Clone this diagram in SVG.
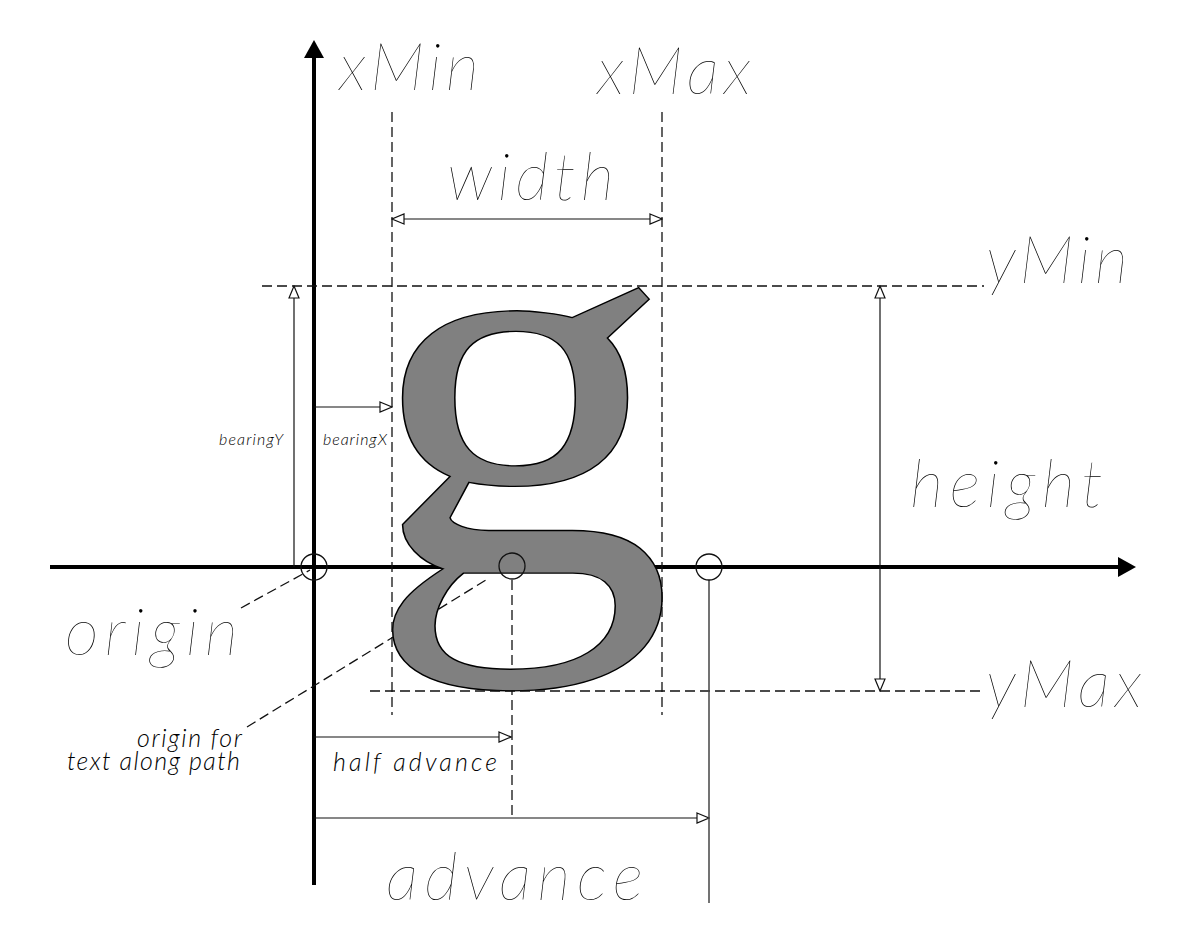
<svg xmlns="http://www.w3.org/2000/svg" width="1200" height="950" viewBox="0 0 1200 950">
  <style>
    .big { font-family: Lato, "Open Sans", "Liberation Sans", sans-serif; font-style: italic; font-weight: 100; font-size: 66px; fill: #000; }
    .small { font-family: Lato, "Open Sans", "Liberation Sans", sans-serif; font-style: italic; font-weight: 300; fill: #000; }
    .axis { stroke: #000; stroke-width: 4; fill: none; }
    .dash { stroke: #111; stroke-width: 1.3; stroke-dasharray: 10 5; fill: none; }
    .dim { stroke: #111; stroke-width: 1.2; fill: none; }
    .ring { stroke: #111; stroke-width: 1.3; fill: none; }
  </style>
  <defs>
    <marker id="open" viewBox="0 0 14 12" refX="13" refY="6" markerWidth="14" markerHeight="12" markerUnits="userSpaceOnUse" orient="auto-start-reverse">
      <path d="M1,1 L13,6 L1,11 Z" fill="#fff" stroke="#111" stroke-width="1.2"/>
    </marker>
    <marker id="solid" viewBox="0 0 18 20" refX="0" refY="10" markerWidth="18" markerHeight="20" markerUnits="userSpaceOnUse" orient="auto">
      <path d="M0,0 L18,10 L0,20 Z" fill="#000"/>
    </marker>
  </defs>
  <rect width="1200" height="950" fill="#fff"/>

  <g id="connectors-under">
    <line class="axis" x1="50" y1="567" x2="1118" y2="567" marker-end="url(#solid)"/>
    <line class="axis" x1="314" y1="885" x2="314" y2="58" marker-end="url(#solid)"/>
    <line class="dash" x1="247" y1="727" x2="486" y2="580"/>
    <line class="dash" x1="512" y1="580" x2="512" y2="818"/>
  </g>

  <g id="glyph">
    <text transform="translate(366.2 571.5) scale(1.0305 0.9268)" x="0" y="0" font-family="'Liberation Serif', 'Times New Roman', serif" font-size="597" fill="#808080" stroke="#000" stroke-width="1.5">g</text>
  </g>

  <g id="connectors">
    <line class="dash" x1="392" y1="112" x2="392" y2="715"/>
    <line class="dash" x1="662" y1="112" x2="662" y2="715"/>
    <line class="dash" x1="262" y1="286" x2="984" y2="286"/>
    <line class="dash" x1="370" y1="691" x2="984" y2="691"/>
    <line class="dash" x1="241" y1="608" x2="310" y2="570"/>
    <line class="dim" x1="392" y1="219" x2="662" y2="219" marker-start="url(#open)" marker-end="url(#open)"/>
    <line class="dim" x1="880" y1="286" x2="880" y2="691" marker-start="url(#open)" marker-end="url(#open)"/>
    <line class="dim" x1="294" y1="567" x2="294" y2="286" marker-end="url(#open)"/>
    <line class="dim" x1="314" y1="407" x2="392" y2="407" marker-end="url(#open)"/>
    <line class="dim" x1="314" y1="737" x2="511" y2="737" marker-end="url(#open)"/>
    <line class="dim" x1="314" y1="818" x2="709" y2="818" marker-end="url(#open)"/>
    <line x1="709" y1="580" x2="709" y2="903" stroke="#444" stroke-width="1.5"/>
  </g>

  <g id="origin-point">
    <circle class="ring" cx="314" cy="567" r="13"/>
  </g>
  <g id="half-advance-point">
    <circle class="ring" cx="512" cy="566" r="13"/>
  </g>
  <g id="advance-point">
    <circle class="ring" cx="709" cy="567" r="13"/>
  </g>

  <g id="label-xmin"><text class="big" x="339" y="90" textLength="140" lengthAdjust="spacing">xMin</text></g>
  <g id="label-xmax"><text class="big" x="597" y="94" textLength="154" lengthAdjust="spacing">xMax</text></g>
  <g id="label-width"><text class="big" x="447" y="200" textLength="167" lengthAdjust="spacing">width</text></g>
  <g id="label-ymin"><text class="big" x="986" y="283" textLength="142" lengthAdjust="spacing">yMin</text></g>
  <g id="label-height"><text class="big" x="910" y="507" textLength="193" lengthAdjust="spacing">height</text></g>
  <g id="label-ymax"><text class="big" x="986" y="707" textLength="156" lengthAdjust="spacing">yMax</text></g>
  <g id="label-origin"><text class="big" x="65" y="655" textLength="173" lengthAdjust="spacing">origin</text></g>
  <g id="label-advance"><text class="big" x="386" y="900" textLength="257" lengthAdjust="spacing">advance</text></g>

  <g id="label-bearingY"><text class="small" x="219" y="445" font-size="16" textLength="64" lengthAdjust="spacing">bearingY</text></g>
  <g id="label-bearingX"><text class="small" x="323" y="445" font-size="16" textLength="64" lengthAdjust="spacing">bearingX</text></g>
  <g id="label-half-advance"><text class="small" x="333" y="771" font-size="25" textLength="164" lengthAdjust="spacing">half advance</text></g>
  <g id="label-origin-path">
    <text class="small" x="137" y="747" font-size="25" textLength="105" lengthAdjust="spacing">origin for</text>
    <text class="small" x="67" y="770" font-size="25" textLength="173" lengthAdjust="spacing">text along path</text>
  </g>
</svg>
